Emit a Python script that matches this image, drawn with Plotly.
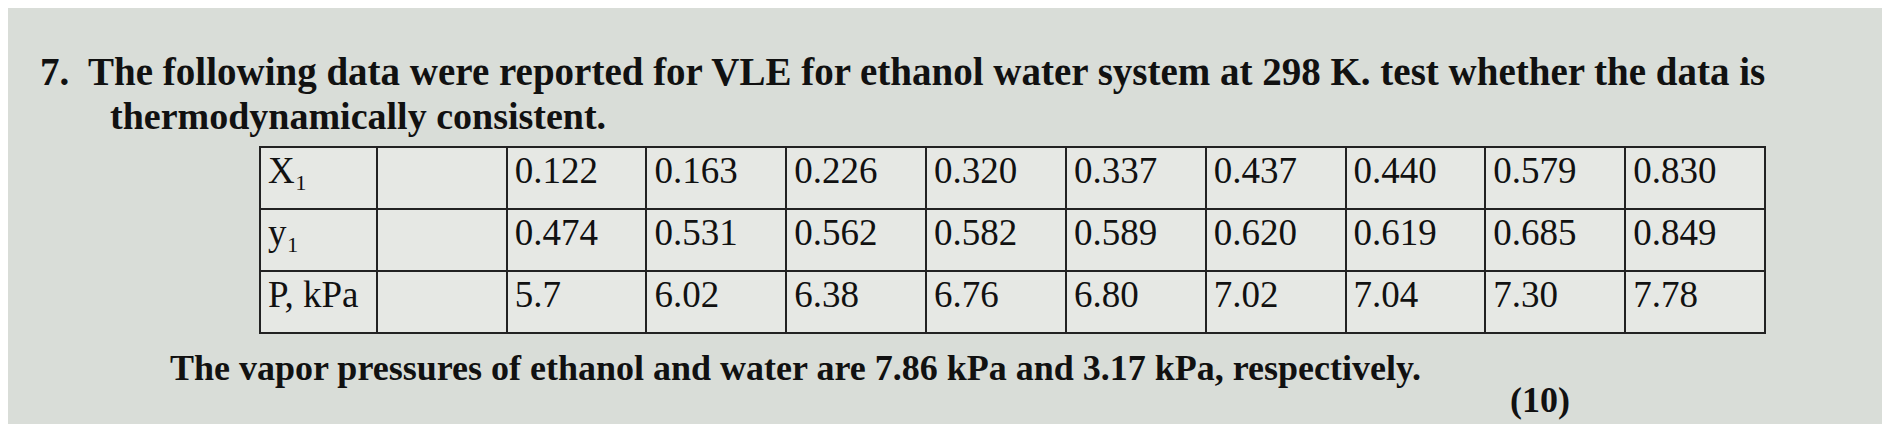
import plotly.graph_objects as go

x1 = ["0.122", "0.163", "0.226", "0.320", "0.337", "0.437", "0.440", "0.579", "0.830"]
y1 = ["0.474", "0.531", "0.562", "0.582", "0.589", "0.620", "0.619", "0.685", "0.849"]
p_kpa = ["5.7", "6.02", "6.38", "6.76", "6.80", "7.02", "7.04", "7.30", "7.78"]
row_labels = ["X₁", "y₁", "P, kPa"]

W, H = 1890, 424
bg = "#d9ddd8"
font = "Liberation Serif"

header = [row_labels[0], ""] + x1
columns = [[row_labels[1], row_labels[2]], ["", ""]] + [[a, b] for a, b in zip(y1, p_kpa)]

fig = go.Figure(go.Table(
    domain=dict(x=[252 / W, 1757 / W], y=[1 - 330 / H, 1 - 139 / H]),
    columnwidth=[117, 130] + [140] * 9,
    header=dict(values=header, height=62, fill_color="#e6e8e4",
                line=dict(color="#222", width=2), align="left",
                font=dict(family=font, size=37, color="#111")),
    cells=dict(values=columns, height=62, fill_color="#e6e8e4",
               line=dict(color="#222", width=2), align="left",
               font=dict(family=font, size=37, color="#111")),
))

texts = [
    (30, 64, "<b>7.  The following data were reported for VLE for ethanol water system at 298 K. test whether the data is</b>", "left", 39),
    (100, 108, "<b>thermodynamically consistent.</b>", "left", 38),
    (160, 360, "<b>The vapor pressures of ethanol and water are 7.86 kPa and 3.17 kPa, respectively.</b>", "left", 36),
    (1532, 392, "<b>(10)</b>", "center", 36),
]
for x, y, t, a, s in texts:
    fig.add_annotation(x=x / W, y=1 - y / H, xref="paper", yref="paper", text=t,
                       showarrow=False, xanchor=a, yanchor="middle",
                       font=dict(family=font, size=s, color="#111"))

fig.update_layout(width=W, height=H, margin=dict(l=0, r=0, t=0, b=0),
                  paper_bgcolor=bg, plot_bgcolor=bg)
fig.write_html("out.html")
